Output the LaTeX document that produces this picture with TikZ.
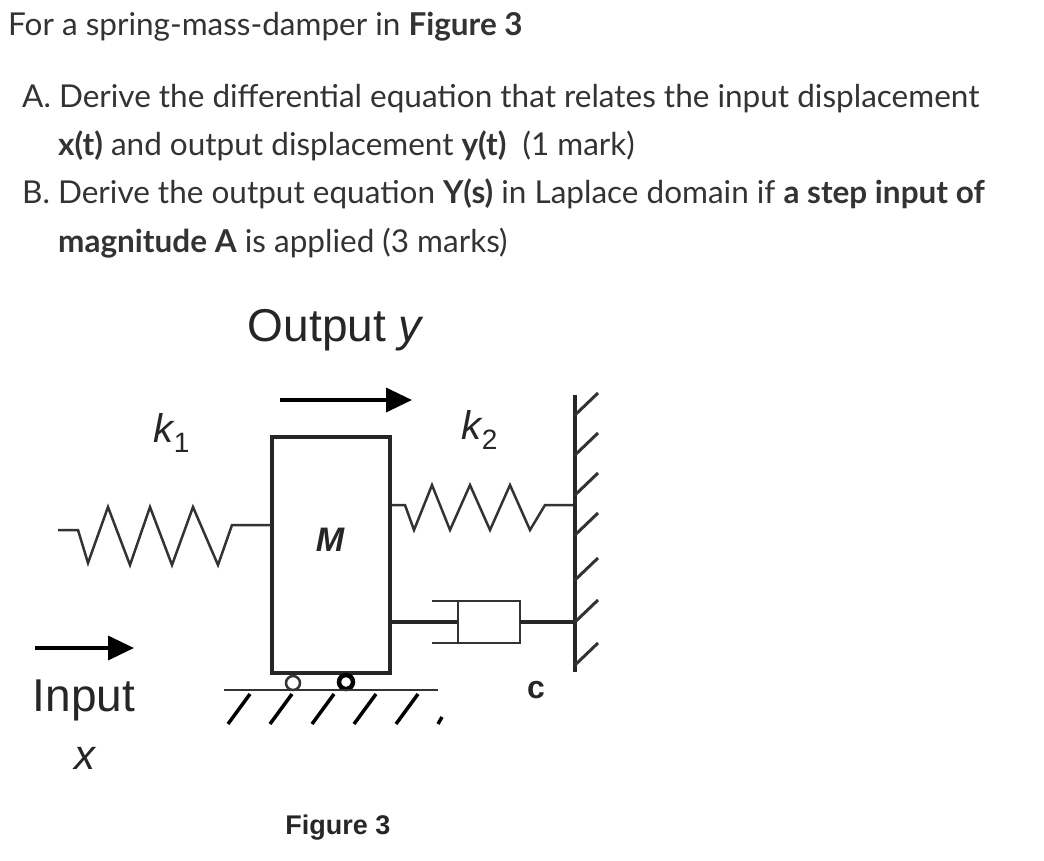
\documentclass[tikz,border=0pt]{standalone}
\usepackage{fontspec}
\setmainfont{Lato}
\newfontfamily\arialf{Liberation Sans}
\usetikzlibrary{arrows.meta}
\begin{document}
\begin{tikzpicture}[x=1pt,y=-1pt,
  qtext/.style={anchor=base west,inner sep=0pt,font=\fontsize{31.5}{36}\selectfont,text=black!80},
  lbl/.style={inner sep=0pt,font=\arialf\fontsize{46}{50}\selectfont,text=black!85},
  klbl/.style={lbl,font=\arialf\itshape\fontsize{40}{44}\selectfont},
  mech/.style={line width=3.5pt,black!85},
  thin/.style={line width=2.5pt,black!80},
  arr/.style={line width=3.5pt,-{Triangle[length=26pt,width=24pt]}}]
\useasboundingbox (0,0) rectangle (1044,860);
\node[qtext] (t0) at (8,35) {For a spring-mass-damper in \textbf{Figure 3}};
\node[qtext] (ta) at (22,107) {A. Derive the differential equation that relates the input displacement};
\node[qtext] (ta2) at (58,155) {\textbf{x(t)} and output displacement \textbf{y(t)}\ \ (1 mark)};
\node[qtext] (tb) at (22,203) {B. Derive the output equation \textbf{Y(s)} in Laplace domain if \textbf{a step input of}};
\node[qtext] (tb2) at (58,252) {\textbf{magnitude A} is applied (3 marks)};
% labels
\node[lbl] (out) at (336,330) {Output \textit{y}};
\node[klbl] (k1) at (172,433) {k\textsubscript{\upshape 1}};
\node[klbl] (k2) at (480,430) {k\textsubscript{\upshape 2}};
\node[klbl,font=\arialf\itshape\bfseries\fontsize{34}{38}\selectfont] (M) at (330,540) {M};
\node[lbl,font=\arialf\bfseries\fontsize{32}{36}\selectfont] (c) at (536,690) {c};
\node[lbl] (inp) at (84,700) {Input};
\node[klbl,font=\arialf\itshape\fontsize{42}{46}\selectfont] (xl) at (85,758) {x};
\node[lbl,font=\arialf\bfseries\fontsize{27}{30}\selectfont] (fig) at (338,828) {Figure 3};
% mass
\node[draw,mech,minimum width=118pt,minimum height=236pt,inner sep=0pt] (mass) at (331,555) {};
% arrows
\coordinate (oa) at (280,400); \coordinate (ob) at (412,400);
\draw[arr] (oa) -- (ob);
\coordinate (ia) at (35,648); \coordinate (ib) at (134,648);
\draw[arr] (ia) -- (ib);
% spring k1
\draw[thin] (58,530) -- (78,530) -- (88,563) -- (108,507) -- (130,565) -- (150,507) -- (172,565) -- (193,507) -- (218,565) -- (232,525) -- (mass.west |- 0,525);
% spring k2
\draw[thin] (mass.east |- 0,505) -- (405,505) -- (414,530) -- (432,485) -- (450,530) -- (470,485) -- (490,530) -- (510,485) -- (530,530) -- (545,505) -- (575,505);
% wall
\coordinate (w1) at (575,395); \coordinate (w2) at (575,672);
\draw[mech] (w1) -- (w2);
\foreach \y in {415,455,495,535,580,622,665}
  \draw[thin,line width=3pt] (575,\y) -- (598,\y-22);
% damper
\draw[mech,line width=4pt] (mass.east |- 0,622) -- (458,622);
\draw[thin] (458,601) -- (458,643);
\draw[thin] (432,601) -- (520,601) -- (520,643) -- (432,643);
\draw[mech,line width=4pt] (520,622) -- (575,622);
% rollers & ground
\draw[thin] (293,683) circle (7);
\draw[line width=4.5pt] (346,682) circle (7);
\draw[thin] (224,690) -- (438,690);
\foreach \x in {228,270,312,354,396}
  \draw[line width=3.5pt] (\x,724) -- (\x+22,694);
\draw[line width=3.5pt] (438,724) -- (442,717);
\end{tikzpicture}
\end{document}
